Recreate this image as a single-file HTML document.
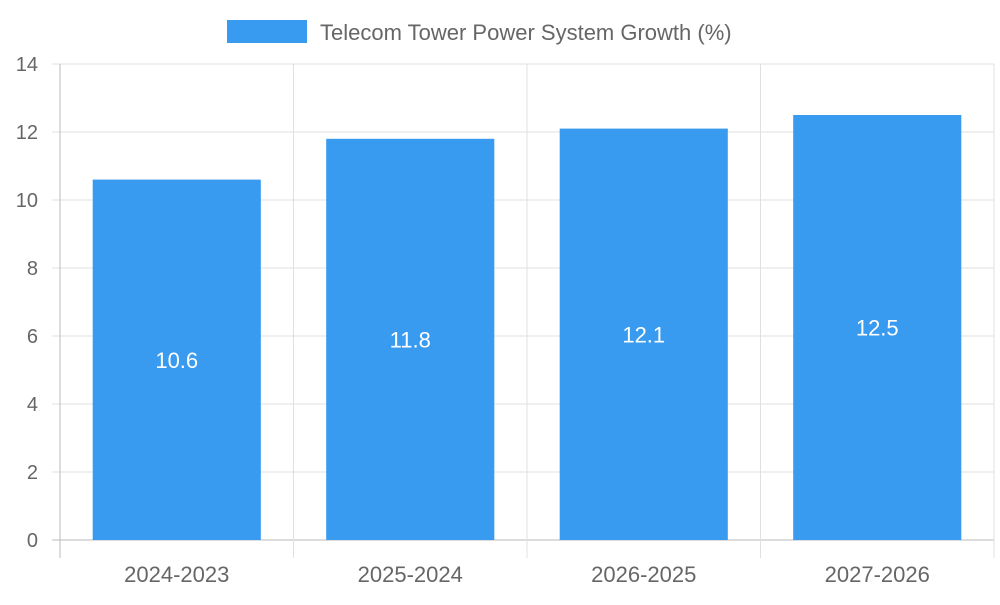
<!DOCTYPE html>
<html><head><meta charset="utf-8"><style>
body{margin:0;background:#fff;font-family:"Liberation Sans",sans-serif}
svg text{font-family:"Liberation Sans",sans-serif}
</style></head><body>
<svg id="chart" width="1000" height="600">
<g id="grid"></g><g id="bars"></g><g id="labels"></g>
<g>
<rect x="227" y="20" width="80" height="23" fill="#389bf0"/>
<text x="320" y="40" font-size="22" fill="#666">Telecom Tower Power System Growth (%)</text>
</g>
</svg>
<script>
const categories=["2024-2023","2025-2024","2026-2025","2027-2026"];
const values=[10.6,11.8,12.1,12.5];
const yTicks=[0,2,4,6,8,10,12,14];
const L=60,R=994,T=64,B=540,yMax=14;
const NS="http://www.w3.org/2000/svg";
const bw=(R-L)/categories.length;
const y=v=>B-(v/yMax)*(B-T);
const x=i=>L+i*bw;
function mk(tag,attrs,parent,txt){const e=document.createElementNS(NS,tag);for(const k in attrs)e.setAttribute(k,attrs[k]);if(txt!==undefined)e.textContent=txt;document.getElementById(parent).appendChild(e);return e;}
yTicks.forEach(t=>{
 const g=mk("line",{x1:L-8,x2:R,y1:y(t),y2:y(t),stroke:t===0?"#bbb":"#e0e0e0","stroke-width":1},"grid");
 
 
 const tl=mk("text",{x:L-22,y:y(t)+7,"text-anchor":"end","font-size":20,fill:"#666"},"labels",String(t));
 
 
});
for(let i=0;i<=categories.length;i++){
 const g=mk("line",{x1:x(i),x2:x(i),y1:T,y2:B+18,stroke:i===0?"#bbb":"#e0e0e0","stroke-width":1},"grid");
 
 
}
categories.forEach((c,i)=>{
 const bwid=bw*0.72,bx=x(i)+(bw-bwid)/2;
 const r=mk("rect",{x:bx,y:y(values[i]),width:bwid,height:B-y(values[i]),fill:"#389bf0"},"bars");
 
 
 const v=mk("text",{x:x(i)+bw/2,y:(y(values[i])+B)/2+8,"text-anchor":"middle","font-size":22,fill:"#fff"},"labels",String(values[i]));
 
 
 const cl=mk("text",{x:x(i)+bw/2,y:582,"text-anchor":"middle","font-size":22,fill:"#666"},"labels",c);
 
 
});
</script>
</body></html>
